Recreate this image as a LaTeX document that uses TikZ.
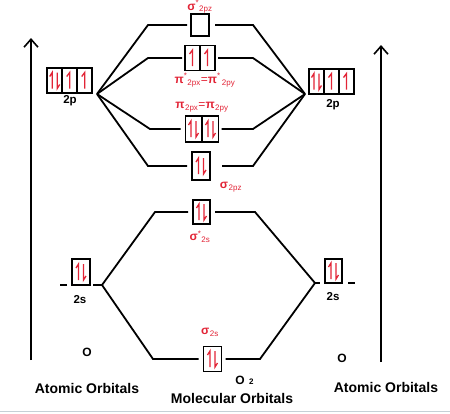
\documentclass[tikz,border=0pt]{standalone}
\usepackage{fontspec}
\setmainfont{Liberation Sans}
\usepackage{tikz}
\usetikzlibrary{arrows.meta,positioning}
\definecolor{orbred}{RGB}{226,36,54}
\definecolor{framegray}{RGB}{198,208,214}
\tikzstyle{orbbox} = [rectangle, draw=black, line width=1.8pt, minimum width=15pt, minimum height=25pt, inner sep=0pt, outer sep=0pt]
\tikzstyle{moline} = [line width=1.8pt, black]
\tikzstyle{axisarrow} = [line width=1.6pt, -{Straight Barb[length=8pt,width=14pt]}]
\tikzstyle{harp} = [orbred, line width=1.3pt]
\tikzstyle{orblabel} = [text=orbred, font=\fontsize{12}{12}\selectfont, inner sep=0pt]
\tikzstyle{aolabel} = [font=\bfseries\fontsize{11.5}{11.5}\selectfont, inner sep=0pt]
\tikzstyle{heading} = [font=\bfseries\fontsize{14}{14}\selectfont, inner sep=0pt]
\tikzset{
  spinup/.pic={\draw[harp] (0,8) -- (0,-8) -- (-3,-4);},
  spinpair/.pic={\draw[harp] (-2.5,8) -- (-2.5,-8) -- (-5,-4);
                 \draw[harp] (2.5,-8) -- (2.5,8) -- (5,4);}
}
\newcommand{\orb}[3]{{\bfseries #1}\textsuperscript{#2}\textsubscript{#3}}

\begin{document}
\begin{tikzpicture}[x=1pt, y=-1pt]
\useasboundingbox (0,0) rectangle (450,413);
\draw[framegray, line width=1pt] (0,411) -- (450,411);

% Energy axes
\coordinate (laxbot) at (31,360);
\coordinate (laxtop) at (31,38);
\coordinate (raxbot) at (381,362);
\coordinate (raxtop) at (381,45);
\draw[axisarrow] (laxbot) -- (laxtop);
\draw[axisarrow] (raxbot) -- (raxtop);

% Atomic orbitals, left O
\node[orbbox] (lp1) at (54.7,80.5) {};
\node[orbbox, right=0pt of lp1] (lp2) {};
\node[orbbox, right=0pt of lp2] (lp3) {};
\node[orbbox, minimum width=18pt, minimum height=26pt] (ls) at (81,272) {};
\node[aolabel] (lplab) at (70,101) {2p};
\node[aolabel] (lslab) at (80,300) {2s};

% Atomic orbitals, right O
\node[orbbox] (rp1) at (316.5,81.5) {};
\node[orbbox, right=0pt of rp1] (rp2) {};
\node[orbbox, right=0pt of rp2] (rp3) {};
\node[orbbox, minimum width=17pt, minimum height=24pt] (rs) at (333.5,271) {};
\node[aolabel] (rplab) at (333,105) {2p};
\node[aolabel] (rslab) at (333,297) {2s};

% Molecular orbitals
\node[orbbox, minimum width=18pt, minimum height=22pt] (ssp) at (200,25) {};
\node[orbbox] (pis1) at (192.5,58) {};
\node[orbbox, right=0pt of pis1] (pis2) {};
\node[orbbox, minimum width=16pt, minimum height=26pt] (pi1) at (193.5,129) {};
\node[orbbox, minimum width=16pt, minimum height=26pt, right=1pt of pi1] (pi2) {};
\node[orbbox, minimum width=18pt, minimum height=28pt] (sp) at (201,166) {};
\node[orbbox, minimum width=17pt, minimum height=24pt] (sss) at (201.5,212) {};
\node[orbbox, minimum width=18pt, minimum height=25pt] (ss) at (212.5,359) {};

% Electrons
\pic at (lp1) {spinpair};
\pic at (lp2) {spinup};
\pic at (lp3) {spinup};
\pic at (rp1) {spinpair};
\pic at (rp2) {spinup};
\pic at (rp3) {spinup};
\pic at (ls) {spinpair};
\pic at (rs) {spinpair};
\pic at (pis1) {spinup};
\pic at (pis2) {spinup};
\pic at (pi1) {spinpair};
\pic at (pi2) {spinpair};
\pic at (sp) {spinpair};
\pic at (sss) {spinpair};
\pic at (ss) {spinpair};

% Orbital labels
\node[orblabel, anchor=north] (lssp) at (200,0) {\orb{σ}{*}{2pz}};
\node[orblabel] (lpis) at (205,80) {\orb{π}{*}{2px}=\orb{π}{*}{\,2py}};
\node[orblabel] (lpi) at (202,107) {\orb{π}{}{2px}=\orb{π}{}{2py}};
\node[orblabel] (lsp) at (231,187) {\orb{σ}{}{2pz}};
\node[orblabel] (lsss) at (200,237) {\orb{σ}{*}{2s}};
\node[orblabel] (lss) at (210,332) {\orb{σ}{}{2s}};

% Meeting points of the level lines
\coordinate (lpc) at (97,94);
\coordinate (rpc) at (305,94);
\coordinate (lsc) at (102,285);
\coordinate (rsc) at (315,283);

% 2p levels
\draw[moline] (lpc) -- (148,25) -- ([xshift=-4]ssp.west);
\draw[moline] ([xshift=6]ssp.east) -- (253,25) -- (rpc);
\draw[moline] (lpc) -- (148,58) -- ([xshift=-3]pis1.west);
\draw[moline] ([xshift=3]pis2.east) -- (253,58) -- (rpc);
\draw[moline] (lpc) -- (150,129) -- ([xshift=-5]pi1.west);
\draw[moline] ([xshift=3]pi2.east) -- (253,129) -- (rpc);
\draw[moline] (lpc) -- (148,166) -- ([xshift=-5]sp.west);
\draw[moline] ([xshift=12]sp.east) -- (253,166) -- (rpc);

% 2s levels
\draw[moline] ([xshift=-5]ls.south west) -- ++(-7,0);
\draw[moline] ([xshift=3]ls.south east) -- (lsc);
\draw[moline] (lsc) -- (155,212) -- ([xshift=-5]sss.west);
\draw[moline] ([xshift=5]sss.east) -- (255,212) -- (rsc);
\draw[moline] (lsc) -- (153,359) -- ([xshift=-5]ss.west);
\draw[moline] ([xshift=4]ss.east) -- (260,359) -- (rsc);
\draw[moline] (rsc) -- ([xshift=-5]rs.south west);
\draw[moline] ([xshift=6]rs.south east) -- ++(7,0);

% Atom and molecule names
\node[aolabel, font=\bfseries\fontsize{12}{12}\selectfont] (lo) at (87,352) {O};
\node[aolabel, font=\bfseries\fontsize{12}{12}\selectfont] (ro) at (342,358) {O};
\node[aolabel, font=\bfseries\fontsize{12}{12}\selectfont] (mo) at (240,380) {O};
\node[aolabel, font=\bfseries\fontsize{8}{8}\selectfont, right=4pt of mo.base east, anchor=base west] (mosub) {2};
\node[heading] (lao) at (87,388) {Atomic Orbitals};
\node[heading] (mol) at (232,398) {Molecular Orbitals};
\node[heading] (rao) at (386,387) {Atomic Orbitals};
\end{tikzpicture}
\end{document}
